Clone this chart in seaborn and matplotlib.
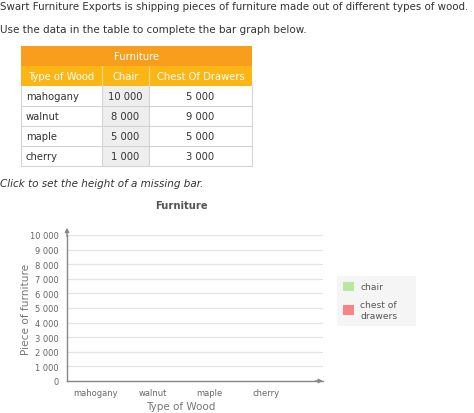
import numpy as np
import pandas as pd
import matplotlib
matplotlib.use("Agg")
import matplotlib.pyplot as plt
from matplotlib.patches import Rectangle
import seaborn as sns

# ── Data ──────────────────────────────────────────────────────
woods = ["mahogany", "walnut", "maple", "cherry"]
table_chair = ["10 000", "8 000", "5 000", "1 000"]
table_chest = ["5 000", "9 000", "5 000", "3 000"]
table_header = ["Type of Wood", "Chair", "Chest Of Drawers"]

# bars still to be set on the graph: all at zero height
graph_chair = [0, 0, 0, 0]
graph_chest = [0, 0, 0, 0]
series = ["chair", "chest of drawers"]
y_ticks = [0, 1000, 2000, 3000, 4000, 5000, 6000, 7000, 8000, 9000, 10000]

W, H = 474, 414
def fx(px): return px / W
def fy(py): return 1 - py / H

sns.set_theme(style="white")
plt.rcParams['font.family'] = ['DejaVu Sans']

fig = plt.figure(figsize=(W / 100, H / 100), dpi=100)

# ── Question text ─────────────────────────────────────────────
txt = "#333333"
fig.text(fx(0), fy(7), "Swart Furniture Exports is shipping pieces of furniture made out of different types of wood.",
         fontsize=7.35, color=txt, va="center", ha="left")
fig.text(fx(0), fy(30), "Use the data in the table to complete the bar graph below.",
         fontsize=7.5, color=txt, va="center", ha="left")
fig.text(fx(0), fy(184), "Click to set the height of a missing bar.",
         fontsize=7.5, color=txt, va="center", ha="left", style="italic")

# ── Table ─────────────────────────────────────────────────────
tax = fig.add_axes([0, 0, 1, 1])
tax.set_xlim(0, W)
tax.set_ylim(H, 0)
tax.axis("off")
tax.patch.set_alpha(0)

col_x = [21, 102, 149, 252]
top = 47
rh = 20
fs = 7.2
border = "#d4d4d4"
tax.add_patch(Rectangle((col_x[0], top), col_x[-1] - col_x[0], rh, color="#f99d1c", lw=0))
tax.text((col_x[0] + col_x[-1]) / 2, top + rh / 2, "Furniture", color="white",
         fontsize=fs, ha="center", va="center")
y0 = top + rh
for i, h in enumerate(table_header):
    tax.add_patch(Rectangle((col_x[i], y0), col_x[i + 1] - col_x[i], rh, color="#fbb616", lw=0))
    tax.text((col_x[i] + col_x[i + 1]) / 2, y0 + rh / 2, h, color="white",
             fontsize=fs, ha="center", va="center")
for c in col_x[1:-1]:
    tax.plot([c, c], [y0, y0 + rh], color="#fdd98a", lw=0.8)

for r, (w, a, b) in enumerate(zip(woods, table_chair, table_chest)):
    yy = y0 + rh * (r + 1)
    tax.add_patch(Rectangle((col_x[1], yy), col_x[2] - col_x[1], rh, color="#eeeeee", lw=0))
    tax.text(col_x[0] + 5, yy + rh / 2, w, color=txt, fontsize=fs, ha="left", va="center")
    tax.text((col_x[1] + col_x[2]) / 2, yy + rh / 2, a, color=txt, fontsize=fs, ha="center", va="center")
    tax.text((col_x[2] + col_x[3]) / 2, yy + rh / 2, b, color=txt, fontsize=fs, ha="center", va="center")
    tax.plot([col_x[0], col_x[-1]], [yy + rh, yy + rh], color=border, lw=0.8)
bot = y0 + rh * (len(woods) + 1)
for c in col_x:
    tax.plot([c, c], [y0 + rh, bot], color=border, lw=0.8)

# legend background panel
tax.add_patch(Rectangle((337, 277), 79, 50, color="#f5f5f5", lw=0))

# ── Bar graph ─────────────────────────────────────────────────
df = pd.DataFrame({
    "wood": woods * 2,
    "kind": [series[0]] * len(woods) + [series[1]] * len(woods),
    "count": graph_chair + graph_chest,
})

ax = fig.add_axes([fx(67), fy(382), fx(323) - fx(67), fy(236) - fy(382)])
sns.barplot(data=df, x="wood", y="count", hue="kind", ax=ax, errorbar=None,
            palette=["#b6e8a0", "#fb8282"], saturation=1, linewidth=0)

ax.set_xlim(-0.5, 4.0)
ax.set_ylim(0, 10000)
ax.set_yticks(y_ticks)
ax.set_yticklabels([f"{v:,}".replace(",", " ") for v in y_ticks])
ax.yaxis.grid(True, color="#e4e4e4", lw=0.9)
ax.set_axisbelow(True)
for s in ["top", "right"]:
    ax.spines[s].set_visible(False)
for s in ["left", "bottom"]:
    ax.spines[s].set_color("#888888")
    ax.spines[s].set_linewidth(1.0)
ax.tick_params(axis="y", length=0, labelsize=6.0, colors="#666666", pad=6)
ax.tick_params(axis="x", length=0, labelsize=6.0, colors="#666666", pad=5)

ax.set_xlabel("Type of Wood", fontsize=7.5, color="#777777")
ax.xaxis.set_label_coords((181 - 67) / 256, -(407 - 382) / 146)
ax.xaxis.label.set_va("center")
ax.set_ylabel("Piece of furniture", fontsize=7.6, color="#777777")
ax.yaxis.set_label_coords((26 - 67) / 256, (382 - 309) / 146)
ax.yaxis.label.set_va("center")
fig.text(fx(181), fy(206), "Furniture", fontsize=7.2, fontweight="bold",
         color="#555555", ha="center", va="center")

# axis arrows
ax.annotate("", xy=(0, 1.05), xytext=(0, 0.99), xycoords="axes fraction",
            arrowprops=dict(arrowstyle="-|>", color="#888888", lw=1.0,
                            mutation_scale=6, shrinkA=0, shrinkB=0))
ax.annotate("", xy=(1.0, 0), xytext=(0.97, 0), xycoords="axes fraction",
            arrowprops=dict(arrowstyle="-|>", color="#888888", lw=1.0,
                            mutation_scale=6, shrinkA=0, shrinkB=0))

leg = ax.legend(loc="upper left", bbox_to_anchor=((337 - 67) / 256, 1 - (277 - 236) / 146),
                frameon=False, fontsize=6.6, handlelength=1.25, handleheight=1.25,
                borderpad=0.6, labelspacing=0.95, handletextpad=0.7, borderaxespad=0)
leg.get_texts()[1].set_text("chest of\ndrawers")
for t in leg.get_texts():
    t.set_color("#555555")

fig.savefig("out.png", dpi=100)
